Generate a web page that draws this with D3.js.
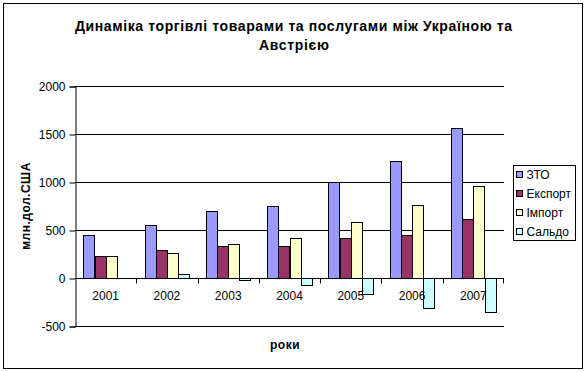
<!DOCTYPE html>
<html>
<head>
<meta charset="utf-8">
<script src="https://cdn.jsdelivr.net/npm/d3@7"></script>
<style>
  body { margin: 0; background: #fff; }
  svg { display: block; }
  svg text { font-family: "Liberation Sans", Arial, sans-serif; fill: #000; }
</style>
</head>
<body>
<svg id="chart"></svg>
<script>
// Data
const years = ["2001", "2002", "2003", "2004", "2005", "2006", "2007"];
const seriesNames = ["ЗТО", "Експорт", "Імпорт", "Сальдо"];
const zto = [445, 555, 700, 750, 1000, 1215, 1565];
const eksport = [225, 295, 335, 335, 420, 450, 615];
const import_ = [225, 262, 355, 415, 585, 762, 960];
const saldo = [0, 38, -20, -75, -165, -310, -355];
const yTicks = [-500, 0, 500, 1000, 1500, 2000];
const colors = ["#9999ff", "#993366", "#ffffcc", "#ccffff"];

const values = [zto, eksport, import_, saldo];

const width = 588, height = 372;
const svg = d3.select("#chart").attr("width", width).attr("height", height);

// outer frame
svg.append("rect")
    .attr("x", 3.5).attr("y", 3.5)
    .attr("width", 579).attr("height", 365)
    .attr("fill", "#fff").attr("stroke", "#000").attr("stroke-width", 1);

const plot = { left: 75, right: 504, top: 86, bottom: 326 };

const y = d3.scaleLinear().domain([-500, 2000]).range([plot.bottom, plot.top]);
const x0 = d3.scaleBand().domain(years).range([plot.left, plot.right]).padding(0);
// Excel-like gap width 150%
const step = x0.bandwidth();
const gap = step * 1.5 / 5.5;
const x1 = d3.scaleBand().domain(seriesNames).range([gap / 2, step - gap / 2]).padding(0);

// gridlines
svg.append("g")
  .selectAll("line")
  .data(yTicks)
  .join("line")
    .attr("x1", plot.left).attr("x2", plot.right)
    .attr("y1", d => Math.round(y(d)) + 0.5).attr("y2", d => Math.round(y(d)) + 0.5)
    .attr("stroke", "#000");

// bars
const rows = [];
years.forEach((yr, i) => seriesNames.forEach((s, j) => rows.push({ yr, s, j, v: values[j][i] })));

svg.append("g")
  .selectAll("rect")
  .data(rows.filter(d => d.v !== 0))
  .join("rect")
    .attr("x", d => Math.round(x0(d.yr) + x1(d.s)) + 0.5)
    .attr("width", Math.round(x1.bandwidth()))
    .attr("y", d => Math.round(y(Math.max(0, d.v))) + 0.5)
    .attr("height", d => Math.abs(Math.round(y(d.v)) - Math.round(y(0))))
    .attr("fill", d => colors[d.j])
    .attr("stroke", "#000");

// y axis
const yAxis = d3.axisLeft(y).tickValues(yTicks).tickSize(6).tickPadding(4).tickFormat(d => String(d));
const gy = svg.append("g")
    .attr("transform", `translate(${plot.left + 0.5},0.5)`)
    .call(yAxis);
gy.attr("font-family", null).attr("font-size", null);
gy.select(".domain").attr("stroke", "#000");
gy.selectAll(".tick line").attr("stroke", "#000");
gy.selectAll("text").style("font-size", "12px");

// x axis on zero line
const xAxis = d3.axisBottom(x0).tickSize(0).tickPadding(13);
const gx = svg.append("g")
    .attr("transform", `translate(0,${Math.round(y(0)) + 0.5})`)
    .call(xAxis);
gx.attr("font-family", null).attr("font-size", null);
gx.select(".domain").remove();
gx.selectAll("text").style("font-size", "12px");
// category boundary ticks
gx.append("g")
  .selectAll("line")
  .data(years.slice(1).concat(["end"]))
  .join("line")
    .attr("x1", d => d === "end" ? plot.right - 0.5 : Math.round(x0(d)) + 0.5)
    .attr("x2", d => d === "end" ? plot.right - 0.5 : Math.round(x0(d)) + 0.5)
    .attr("y1", 0).attr("y2", 5)
    .attr("stroke", "#000");

// title
const title = svg.append("text")
    .attr("text-anchor", "start")
    .style("font-size", "14px").style("font-weight", "bold");
title.append("tspan").attr("x", 75).attr("y", 31)
    .attr("textLength", 437).attr("lengthAdjust", "spacing")
    .text("Динаміка торгівлі товарами та послугами між Україною та");
title.append("tspan").attr("x", 259).attr("y", 50)
    .attr("textLength", 70).attr("lengthAdjust", "spacing")
    .text("Австрією");

// axis titles
svg.append("text")
    .attr("transform", `translate(30,${(plot.top + plot.bottom) / 2}) rotate(-90)`)
    .attr("text-anchor", "middle")
    .style("font-size", "12px").style("font-weight", "bold")
    .style("letter-spacing", "0.5px")
    .text("млн.дол.США");

svg.append("text")
    .attr("x", 285).attr("y", 349)
    .attr("text-anchor", "middle")
    .style("font-size", "12px").style("font-weight", "bold")
    .style("letter-spacing", "0.5px")
    .text("роки");

// legend
const legend = svg.append("g").attr("transform", "translate(513.5,165.5)");
legend.append("rect")
    .attr("width", 62).attr("height", 75)
    .attr("fill", "#fff").attr("stroke", "#000");
const li = legend.selectAll("g")
  .data(seriesNames)
  .join("g")
    .attr("transform", (d, i) => `translate(3,${9 + i * 19})`);
li.append("rect")
    .attr("x", 0).attr("y", -3)
    .attr("width", 6).attr("height", 6)
    .attr("fill", (d, i) => colors[i]).attr("stroke", "#000");
li.append("text")
    .attr("x", 10).attr("y", 4)
    .style("font-size", "12px")
    .text(d => d);
</script>
</body>
</html>
